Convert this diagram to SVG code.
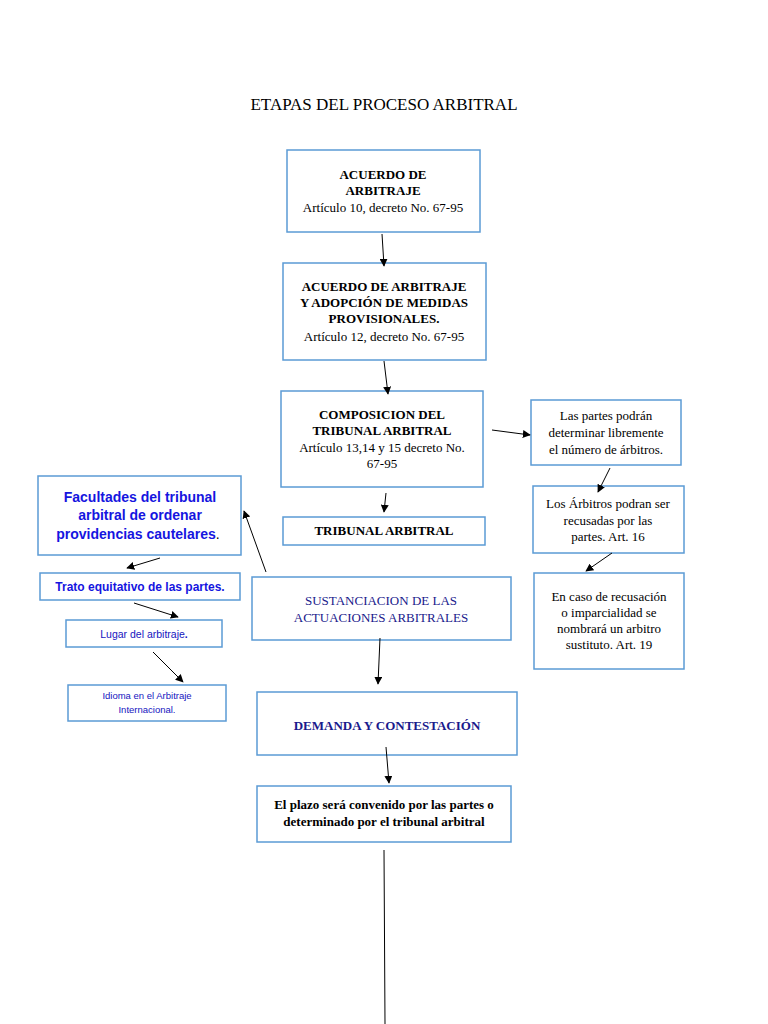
<svg xmlns="http://www.w3.org/2000/svg" width="768" height="1024" viewBox="0 0 768 1024">
<defs><marker id="a" viewBox="0 0 10 10" refX="9" refY="5" markerWidth="8" markerHeight="8" orient="auto"><path d="M0,0L10,5L0,10z" fill="#000"/></marker></defs>
<style>
.b{fill:#fff;stroke:#5b9bd5;stroke-width:1.5}
.s{font-family:"Liberation Serif",serif;font-size:13px;text-anchor:middle;fill:#000}
.sb{font-weight:bold}
.n{fill:#1a1a8c}
.h{font-family:"Liberation Sans",Arial,sans-serif;text-anchor:middle;fill:#1515e0;font-weight:bold}
.hs{font-family:"Liberation Sans",Arial,sans-serif;text-anchor:middle;fill:#1515c0}
.c{stroke:#000;stroke-width:1;fill:none;marker-end:url(#a)}
</style>
<rect width="768" height="1024" fill="#fff"/>
<text x="384" y="110" font-family="Liberation Serif,serif" font-size="17" text-anchor="middle">ETAPAS DEL PROCESO ARBITRAL</text>
<g id="n1"><rect class="b" x="287" y="150" width="193" height="82"/><text class="s sb" x="383" y="179">ACUERDO DE</text><text class="s sb" x="383" y="195">ARBITRAJE</text><text class="s" x="383" y="212">Artículo 10, decreto No. 67-95</text></g>
<g id="n2"><rect class="b" x="283" y="263" width="203" height="97"/><text class="s sb" x="384" y="291">ACUERDO DE ARBITRAJE</text><text class="s sb" x="384" y="307">Y ADOPCIÓN DE MEDIDAS</text><text class="s sb" x="384" y="323">PROVISIONALES.</text><text class="s" x="384" y="341">Artículo 12, decreto No. 67-95</text></g>
<g id="n3"><rect class="b" x="281" y="391" width="202" height="96"/><text class="s sb" x="382" y="419">COMPOSICION DEL</text><text class="s sb" x="382" y="435">TRIBUNAL ARBITRAL</text><text class="s" x="382" y="452">Artículo 13,14 y 15 decreto No.</text><text class="s" x="382" y="468">67-95</text></g>
<g id="n4"><rect class="b" x="283" y="517" width="202" height="28"/><text class="s sb" x="384" y="535">TRIBUNAL ARBITRAL</text></g>
<g id="n5"><rect class="b" x="252" y="577" width="259" height="63"/><text class="s n" x="381" y="605">SUSTANCIACION DE LAS</text><text class="s n" x="381" y="622">ACTUACIONES ARBITRALES</text></g>
<g id="n6"><rect class="b" x="257" y="692" width="260" height="63"/><text class="s sb n" x="387" y="730" font-size="14">DEMANDA Y CONTESTACIÓN</text></g>
<g id="n7"><rect class="b" x="257" y="786" width="254" height="56"/><text class="s sb" x="384" y="809">El plazo será convenido por las partes o</text><text class="s sb" x="384" y="826">determinado por el tribunal arbitral</text></g>
<g id="r1"><rect class="b" x="531" y="400" width="150" height="65"/><text class="s" x="606" y="420" font-size="12.5">Las partes podrán</text><text class="s" x="606" y="437" font-size="12.5">determinar libremente</text><text class="s" x="606" y="454" font-size="12.5">el número de árbitros.</text></g>
<g id="r2"><rect class="b" x="533" y="486" width="151" height="67"/><text class="s" x="608" y="508" font-size="12.5">Los Árbitros podran ser</text><text class="s" x="608" y="525" font-size="12.5">recusadas por las</text><text class="s" x="608" y="541" font-size="12.5">partes. Art. 16</text></g>
<g id="r3"><rect class="b" x="534" y="573" width="150" height="96"/><text class="s" x="609" y="601" font-size="12.5">En caso de recusación</text><text class="s" x="609" y="617" font-size="12.5">o imparcialidad se</text><text class="s" x="609" y="633" font-size="12.5">nombrará un arbitro</text><text class="s" x="609" y="649" font-size="12.5">sustituto. Art. 19</text></g>
<g id="l1"><rect class="b" x="38" y="476" width="203" height="79"/><text class="h" x="140" y="502" font-size="14">Facultades del tribunal</text><text class="h" x="140" y="520" font-size="14">arbitral de ordenar</text><text class="h" x="138" y="539" font-size="14">providencias cautelares<tspan fill="#000" font-weight="normal">.</tspan></text></g>
<g id="l2"><rect class="b" x="40" y="573" width="200" height="27"/><text class="h" x="140" y="591" font-size="12">Trato equitativo de las partes.</text></g>
<g id="l3"><rect class="b" x="66" y="620" width="156" height="27"/><text class="hs" x="144" y="638" font-size="10.5">Lugar del arbitraje<tspan font-weight="bold">.</tspan></text></g>
<g id="l4"><rect class="b" x="68" y="685" width="158" height="36"/><text class="hs" x="147" y="699" font-size="9.5">Idioma en el Arbitraje</text><text class="hs" x="147" y="713" font-size="9.5">Internacional.</text></g>
<g id="connectors">
<line class="c" x1="382" y1="234" x2="384" y2="266"/>
<line class="c" x1="384" y1="361" x2="388" y2="394"/>
<line class="c" x1="492" y1="430" x2="530" y2="435"/>
<line class="c" x1="386" y1="493" x2="384" y2="512"/>
<line class="c" x1="380" y1="638" x2="378" y2="684"/>
<line class="c" x1="386" y1="747" x2="389" y2="783"/>
<line class="c" x1="610" y1="468" x2="598" y2="492"/>
<line class="c" x1="612" y1="553" x2="586" y2="571"/>
<line class="c" x1="266" y1="572" x2="244" y2="511"/>
<line class="c" x1="160" y1="558" x2="127" y2="568"/>
<line class="c" x1="134" y1="603" x2="178" y2="617"/>
<line class="c" x1="153" y1="652" x2="183" y2="682"/>
<line x1="384" y1="850" x2="385" y2="1024" stroke="#000"/>
</g>
</svg>
